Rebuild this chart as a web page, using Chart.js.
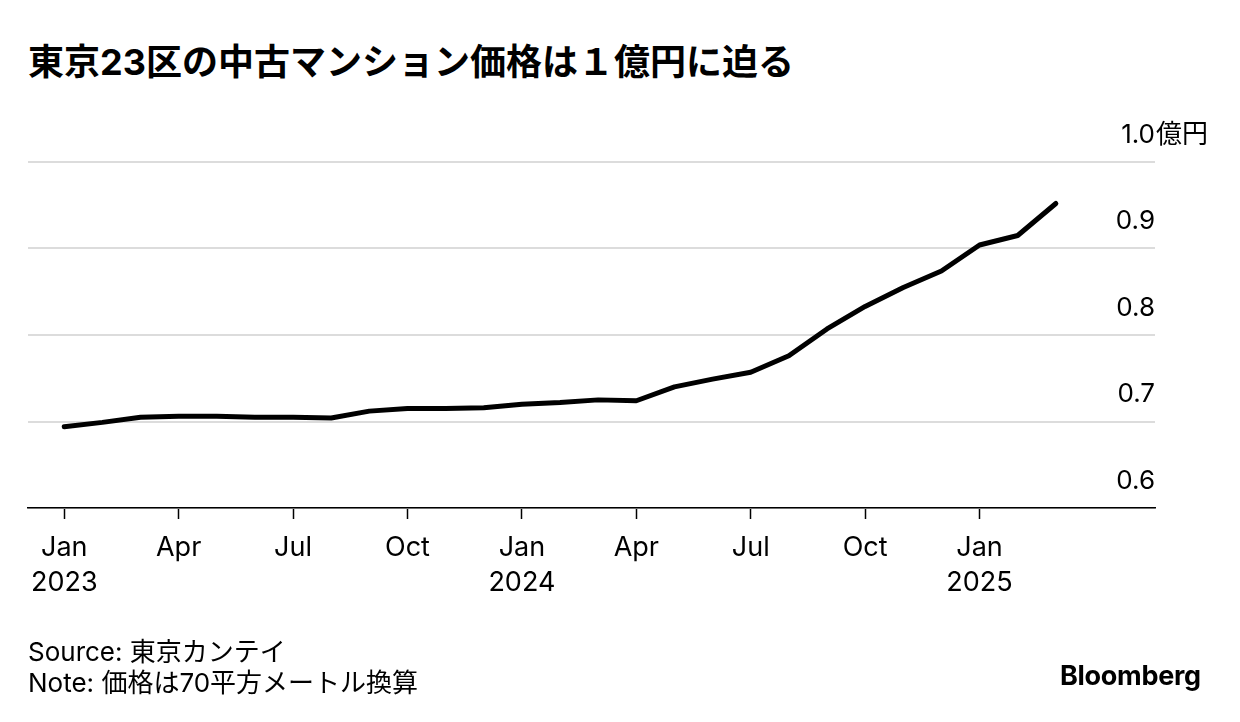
<!DOCTYPE html>
<html lang="ja">
<head>
    <meta charset="UTF-8">
    <title>東京23区の中古マンション価格</title>
    <style>
        body {
            margin: 0;
            width: 1240px;
            height: 722px;
            background: #fff;
            position: relative;
            overflow: hidden;
            font-family: Inter, "Noto Sans CJK JP", sans-serif;
            color: #000;
        }
        #title {
            position: absolute;
            left: 28px;
            top: 38px;
            font-size: 36px;
            font-weight: 700;
            line-height: 48px;
        }
        #chart-box {
            position: absolute;
            left: 0;
            top: 0;
            width: 1240px;
            height: 722px;
        }
        .foot {
            position: absolute;
            left: 28px;
            font-size: 26px;
            line-height: 32px;
        }
        #logo {
            position: absolute;
            left: 1060px;
            top: 659px;
            font-size: 27px;
            font-weight: 700;
            letter-spacing: -0.3px;
        }
    </style>
    <script src="https://cdn.jsdelivr.net/npm/chart.js"></script>
</head>
<body>
    <div id="title">東京23区の中古マンション価格は１億円に迫る</div>
    <div id="chart-box"><canvas id="priceChart"></canvas></div>
    <div class="foot" style="top:636px">Source: 東京カンテイ</div>
    <div class="foot" style="top:667px">Note: 価格は70平方メートル換算</div>
    <div id="logo">Bloomberg</div>

    <script>
        // 月次データ (2023年1月〜2025年3月), 単位: 億円
        const months = [
            'Jan 2023', 'Feb 2023', 'Mar 2023', 'Apr 2023', 'May 2023', 'Jun 2023',
            'Jul 2023', 'Aug 2023', 'Sep 2023', 'Oct 2023', 'Nov 2023', 'Dec 2023',
            'Jan 2024', 'Feb 2024', 'Mar 2024', 'Apr 2024', 'May 2024', 'Jun 2024',
            'Jul 2024', 'Aug 2024', 'Sep 2024', 'Oct 2024', 'Nov 2024', 'Dec 2024',
            'Jan 2025', 'Feb 2025', 'Mar 2025'
        ];
        const prices = [
            0.694, 0.699, 0.705, 0.706, 0.706, 0.705,
            0.705, 0.704, 0.712, 0.715, 0.715, 0.716,
            0.720, 0.722, 0.725, 0.724, 0.740, 0.749,
            0.757, 0.776, 0.807, 0.833, 0.855, 0.874,
            0.904, 0.915, 0.952
        ];
        const yTicks = [0.6, 0.7, 0.8, 0.9, 1.0];
        const xTickIdx = [0, 3, 6, 9, 12, 15, 18, 21, 24];
        const xTickLabels = [
            ['Jan', '2023'], 'Apr', 'Jul', 'Oct',
            ['Jan', '2024'], 'Apr', 'Jul', 'Oct',
            ['Jan', '2025']
        ];

        const points = prices.map((v, i) => ({ x: i, y: v }));
        const fontFamily = 'Inter, "Noto Sans CJK JP", sans-serif';

        // 1.0 の横に単位を付ける
        const unitPlugin = {
            id: 'unitLabel',
            afterDraw(chart) {
                const y = chart.scales.y;
                const ctx = chart.ctx;
                ctx.save();
                ctx.font = '26px ' + fontFamily;
                ctx.fillStyle = '#000';
                ctx.textAlign = 'left';
                ctx.textBaseline = 'middle';
                ctx.fillText('億円', y.left + 1, y.getPixelForValue(1.0) - 27);
                ctx.restore();
            }
        };

        window.onload = function() {
            const ctx = document.getElementById('priceChart').getContext('2d');
            new Chart(ctx, {
                type: 'line',
                data: {
                    datasets: [{
                        data: points,
                        borderColor: '#000',
                        borderWidth: 5,
                        borderCapStyle: 'round',
                        borderJoinStyle: 'round',
                        pointRadius: 0,
                        tension: 0,
                        fill: false
                    }]
                },
                options: {
                    responsive: true,
                    maintainAspectRatio: false,
                    animation: false,
                    layout: { padding: { top: 162, left: 28, right: 85, bottom: 0 } },
                    plugins: {
                        legend: { display: false },
                        tooltip: { enabled: false }
                    },
                    scales: {
                        x: {
                            type: 'linear',
                            min: -0.95,
                            max: 28.6,
                            afterFit: (scale) => { scale.height = 214; },
                            afterBuildTicks: (scale) => {
                                scale.ticks = xTickIdx.map(v => ({ value: v }));
                            },
                            grid: {
                                drawOnChartArea: false,
                                drawTicks: true,
                                tickLength: 11,
                                tickWidth: 1.5,
                                tickColor: '#000'
                            },
                            border: { display: true, color: '#000', width: 1.5 },
                            ticks: {
                                autoSkip: false,
                                maxRotation: 0,
                                padding: 12,
                                color: '#000',
                                font: { family: fontFamily, size: 27, lineHeight: 1.27 },
                                callback: (value) => xTickLabels[xTickIdx.indexOf(value)]
                            }
                        },
                        y: {
                            position: 'right',
                            min: 0.6,
                            max: 1.0,
                            afterFit: (scale) => { scale.width = 0; },
                            afterBuildTicks: (scale) => {
                                scale.ticks = yTicks.map(v => ({ value: v }));
                            },
                            grid: {
                                color: '#dcdcdc',
                                lineWidth: 2,
                                drawTicks: false
                            },
                            border: { display: false },
                            ticks: {
                                mirror: true,
                                padding: 0,
                                labelOffset: -27,
                                color: '#000',
                                font: { family: fontFamily, size: 26 },
                                callback: (value) => value.toFixed(1)
                            }
                        }
                    }
                },
                plugins: [unitPlugin]
            });
        };
    </script>
</body>
</html>
